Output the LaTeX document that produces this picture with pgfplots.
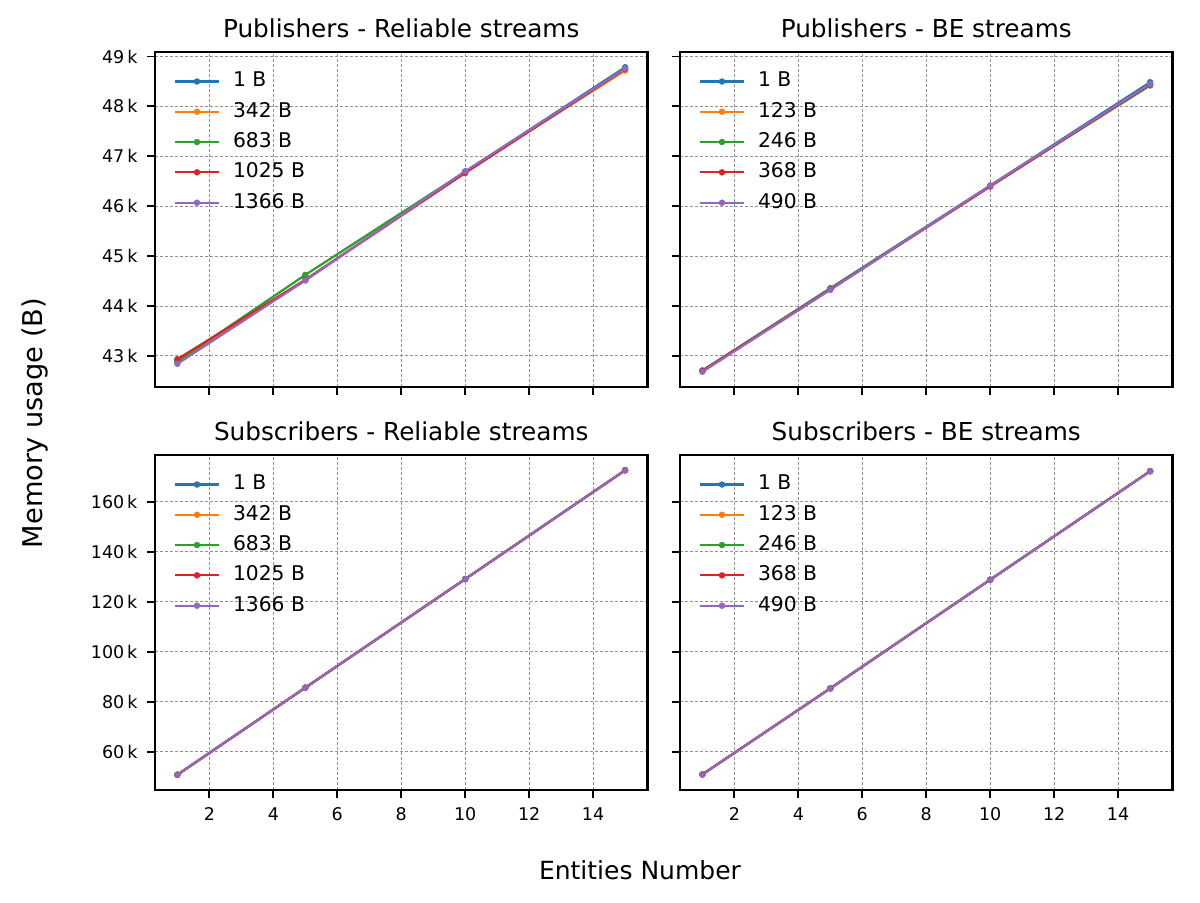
\documentclass[border=0pt]{standalone}
\usepackage{fontspec}
\setmainfont{DejaVu Sans}
\usepackage{pgfplots}
\pgfplotsset{compat=1.18}
\definecolor{c0}{HTML}{1F77B4}
\definecolor{c1}{HTML}{FF7F0E}
\definecolor{c2}{HTML}{2CA02C}
\definecolor{c3}{HTML}{D62728}
\definecolor{c4}{HTML}{9467BD}
\pgfplotsset{
  every axis title/.style={at={(0.5,1)}, anchor=base, yshift=5.3pt, font=\fontsize{8.9}{10}\selectfont},
  base/.style={
    scale only axis, width=177.3pt, height=120.6pt,
    xmin=0.3, xmax=15.7,
    xtick={2,4,...,14},
    scaled x ticks=false, scaled y ticks=false,
    xtick pos=left, ytick pos=left,
    tick align=outside, major tick length=2.8pt,
    tick style={black, line width=0.7pt},
    axis line style={line width=0.75pt},
    grid=major,
    major grid style={gray!85, line width=0.3pt, dash pattern=on 1.1pt off 0.7pt},
    tick label style={font=\fontsize{6.3}{7}\selectfont},
    /pgf/number format/assume math mode=true,
    legend style={draw=none, fill=none, at={(0.02,0.975)}, anchor=north west,
      font=\fontsize{7.3}{8.5}\selectfont, row sep=0pt,
      /tikz/every odd column/.append style={column sep=2.6pt}},
    legend cell align=left,
    every axis plot/.append style={line width=0.8pt, mark=*, mark size=1.05pt, mark options={solid, line width=0.2pt}},
    legend image code/.code={\draw[mark repeat=2,mark phase=2] plot coordinates {(0cm,0cm) (0.28cm,0cm) (0.56cm,0cm)};},
  },
  toprow/.style={ymin=42375, ymax=49090,
    ytick={43000,44000,45000,46000,47000,48000,49000}, xticklabels={}},
  botrow/.style={ymin=44713, ymax=178620,
    ytick={60000,80000,100000,120000,140000,160000}},
}
\begin{document}
\begin{tikzpicture}
\path[use as bounding box] (0,0) rectangle (432pt,-324.72pt);
% Top left
\begin{axis}[base, toprow, at={(55.8pt,-18.72pt)}, anchor=north west,
  title={Publishers - Reliable streams},
  yticklabels={43\,k,44\,k,45\,k,46\,k,47\,k,48\,k,49\,k}]
\addplot[c0] coordinates {(1,42886) (5,44523) (10,46690) (15,48785)};
\addlegendentry{1 B}
\addplot[c1] coordinates {(1,42886) (5,44523) (10,46690) (15,48718)};
\addlegendentry{342 B}
\addplot[c2] coordinates {(1,42886) (5,44623) (10,46690) (15,48750)};
\addlegendentry{683 B}
\addplot[c3] coordinates {(1,42933) (5,44523) (10,46665) (15,48750)};
\addlegendentry{1025 B}
\addplot[c4] coordinates {(1,42840) (5,44510) (10,46700) (15,48758)};
\addlegendentry{1366 B}
\end{axis}
% Top right
\begin{axis}[base, toprow, at={(244.8pt,-18.72pt)}, anchor=north west,
  title={Publishers - BE streams}, yticklabels={}]
\addplot[c0] coordinates {(1,42706) (5,44356) (10,46413) (15,48484)};
\addlegendentry{1 B}
\addplot[c1] coordinates {(1,42700) (5,44340) (10,46405) (15,48440)};
\addlegendentry{123 B}
\addplot[c2] coordinates {(1,42700) (5,44340) (10,46405) (15,48418)};
\addlegendentry{246 B}
\addplot[c3] coordinates {(1,42700) (5,44330) (10,46393) (15,48440)};
\addlegendentry{368 B}
\addplot[c4] coordinates {(1,42680) (5,44323) (10,46413) (15,48451)};
\addlegendentry{490 B}
\end{axis}
% Bottom left
\begin{axis}[base, botrow, at={(55.8pt,-163.8pt)}, anchor=north west,
  title={Subscribers - Reliable streams},
  yticklabels={60\,k,80\,k,100\,k,120\,k,140\,k,160\,k}]
\addplot[c0] coordinates {(1,50850) (5,85600) (10,129067) (15,172533)};
\addlegendentry{1 B}
\addplot[c1] coordinates {(1,50850) (5,85600) (10,129000) (15,172500)};
\addlegendentry{342 B}
\addplot[c2] coordinates {(1,50850) (5,85600) (10,129067) (15,172533)};
\addlegendentry{683 B}
\addplot[c3] coordinates {(1,50750) (5,85650) (10,129000) (15,172500)};
\addlegendentry{1025 B}
\addplot[c4] coordinates {(1,50850) (5,85600) (10,129067) (15,172533)};
\addlegendentry{1366 B}
\end{axis}
% Bottom right
\begin{axis}[base, botrow, at={(244.8pt,-163.8pt)}, anchor=north west,
  title={Subscribers - BE streams}, yticklabels={}]
\addplot[c0] coordinates {(1,50930) (5,85333) (10,128800) (15,172133)};
\addlegendentry{1 B}
\addplot[c1] coordinates {(1,50930) (5,85333) (10,128800) (15,172133)};
\addlegendentry{123 B}
\addplot[c2] coordinates {(1,50930) (5,85333) (10,128800) (15,172200)};
\addlegendentry{246 B}
\addplot[c3] coordinates {(1,50980) (5,85333) (10,128750) (15,172133)};
\addlegendentry{368 B}
\addplot[c4] coordinates {(1,50930) (5,85333) (10,128800) (15,172133)};
\addlegendentry{490 B}
\end{axis}
\node[anchor=base, font=\fontsize{9}{10}\selectfont] at (230.4pt,-316.44pt) {Entities Number};
\node[anchor=base, rotate=90, font=\fontsize{9.8}{11}\selectfont] at (15.2pt,-152.3pt) {Memory usage (B)};
\end{tikzpicture}
\end{document}
